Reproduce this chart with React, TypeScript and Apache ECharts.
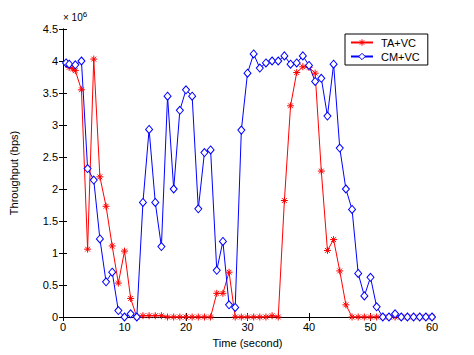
import React, { useEffect, useRef } from "react";
import * as echarts from "echarts";

const taTimes = [1, 1.6, 2, 3, 4, 5, 6, 7, 8, 9, 10, 11, 12, 13, 14, 15, 16, 17, 18, 19, 20, 21, 22, 23, 24, 25, 26, 27, 28, 29, 30, 31, 32, 33, 34, 35, 36, 37, 38, 39, 40, 41, 42, 43, 44, 45, 46, 47, 48, 49, 50, 51, 52, 53, 54, 55, 56, 57, 58, 59, 60];
const taValues = [3.9, 3.88, 3.85, 3.55, 1.06, 4.03, 2.19, 1.73, 1.11, 0.53, 1.03, 0.29, 0, 0.02, 0.02, 0.02, 0.02, 0, 0, 0, 0, 0, 0, 0, 0, 0.37, 0.37, 0.7, 0, 0, 0, 0, 0, 0, 0.02, 0, 1.82, 3.3, 3.82, 3.91, 3.9, 3.81, 2.28, 1.04, 1.21, 0.72, 0.19, 0, 0, 0, 0, 0, 0, 0, 0, 0, 0, 0, 0, 0, 0];

const cmTimes = [0.5, 1, 2, 3, 4, 5, 6, 7, 8, 9, 10, 11, 12, 13, 14, 15, 16, 17, 18, 19, 20, 21, 22, 23, 24, 25, 26, 27, 28, 29, 30, 31, 32, 33, 34, 35, 36, 37, 38, 39, 40, 41, 42, 43, 44, 45, 46, 47, 48, 49, 50, 51, 52, 53, 54, 55, 56, 57, 58, 59, 60];
const cmValues = [3.97, 3.95, 3.94, 4.0, 2.32, 2.14, 1.22, 0.55, 0.7, 0.1, 0, 0.05, 0, 1.79, 2.93, 1.79, 1.1, 3.45, 2.0, 3.23, 3.55, 3.45, 1.69, 2.57, 2.61, 0.73, 1.18, 0.19, 0.15, 2.92, 3.81, 4.11, 3.89, 3.97, 4.0, 4.0, 4.08, 3.95, 3.97, 4.08, 3.93, 3.68, 3.73, 3.14, 3.95, 2.64, 2.0, 1.68, 0.68, 0.33, 0.62, 0.16, 0, 0, 0.05, 0, 0, 0, 0, 0, 0];

const seriesNames = ["TA+VC", "CM+VC"];
const xTitle = "Time (second)";
const yTitle = "Throughput (bps)";

const FONT = "Liberation Sans, Arial, sans-serif";
const asterisk = "path://M0,5L10,5M5,0L5,10M1.6,1.6L8.4,8.4M8.4,1.6L1.6,8.4";

export default function App() {
  const ref = useRef<HTMLDivElement>(null);
  useEffect(() => {
    if (!ref.current) return;
    const chart = echarts.init(ref.current, null, { renderer: "svg" });
    const pair = (xs: number[], ys: number[]) => xs.map((x, i) => [x, ys[i]]);
    const axisCommon = {
      axisLine: { show: true, lineStyle: { color: "#000", width: 1 } },
      axisTick: { show: true, inside: true, length: 4, lineStyle: { color: "#000" } },
      splitLine: { show: false },
    };
    chart.setOption({
      animation: false,
      backgroundColor: "#fff",
      textStyle: { fontFamily: FONT },
      grid: { left: 63, right: 42, top: 29, bottom: 38 },
      xAxis: [
        {
          type: "value", min: 0, max: 60, interval: 10, position: "bottom",
          ...axisCommon,
          axisLabel: { color: "#000", fontSize: 11, fontFamily: FONT, margin: 4 },
          name: xTitle, nameLocation: "middle", nameGap: 20,
          nameTextStyle: { color: "#000", fontSize: 11, fontFamily: FONT },
        },
        {
          type: "value", min: 0, max: 60, interval: 10, position: "top",
          ...axisCommon, axisLabel: { show: false },
        },
      ],
      yAxis: [
        {
          type: "value", min: 0, max: 4.5, interval: 0.5, position: "left",
          ...axisCommon,
          axisLabel: { color: "#000", fontSize: 11, fontFamily: FONT, margin: 5 },
          name: yTitle, nameLocation: "middle", nameGap: 44,
          nameTextStyle: { color: "#000", fontSize: 11, fontFamily: FONT },
        },
        {
          type: "value", min: 0, max: 4.5, interval: 0.5, position: "right",
          ...axisCommon, axisLabel: { show: false },
        },
      ],
      legend: {
        left: 345, top: 34, orient: "vertical",
        backgroundColor: "#fff", borderColor: "#000", borderWidth: 1,
        padding: [3, 8, 3, 5], itemGap: 3, itemWidth: 22, itemHeight: 8,
        itemStyle: { borderWidth: 1 },
        textStyle: { color: "#000", fontSize: 11, fontFamily: FONT, padding: [0, 0, 0, 3] },
        data: seriesNames,
      },
      graphic: [
        {
          type: "text", left: 63, top: 10,
          style: {
            text: "× 10{s|6}",
            fontSize: 10, fontFamily: FONT, fill: "#000",
            rich: { s: { fontSize: 8, verticalAlign: "top", padding: [0, 0, 6, 0], fontFamily: FONT, fill: "#000" } },
          },
        },
      ],
      series: [
        {
          name: seriesNames[0], type: "line",
          data: pair(taTimes, taValues),
          symbol: asterisk, symbolSize: 7, showAllSymbol: true,
          lineStyle: { color: "#ff0000", width: 1 },
          itemStyle: { color: "#ff0000", borderColor: "#ff0000", borderWidth: 1 },
        },
        {
          name: seriesNames[1], type: "line",
          data: pair(cmTimes, cmValues),
          symbol: "diamond", symbolSize: [7, 8], showAllSymbol: true,
          lineStyle: { color: "#0000ff", width: 1 },
          itemStyle: { color: "#ffffff", borderColor: "#0000ff", borderWidth: 1 },
        },
      ],
    });
    return () => chart.dispose();
  }, []);
  return <div ref={ref} style={{ width: 474, height: 355, position: "absolute", left: 0, top: 0 }} />;
}
